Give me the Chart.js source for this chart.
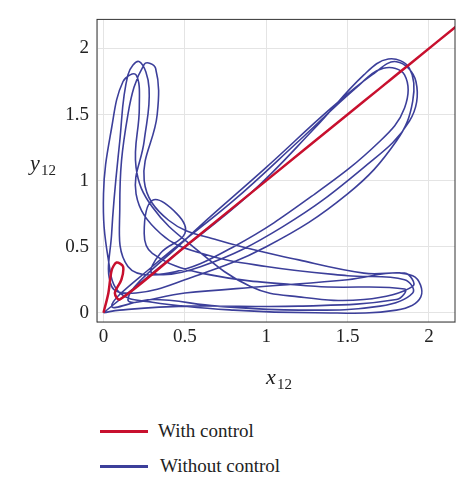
<!DOCTYPE html>
<html>
<head>
<meta charset="utf-8">
<script src="https://cdn.jsdelivr.net/npm/chart.js@4.4.0/dist/chart.umd.min.js"></script>
<style>
  body { margin: 0; background: #fff; }
  #wrap { position: relative; width: 474px; height: 496px; }
  canvas { position: absolute; left: 0; top: 0; }
  .leg { position: absolute; font: 19px "Liberation Serif", serif; color: #222; }
  .sw { position: absolute; height: 3px; width: 48px; }
</style>
</head>
<body>
<div id="wrap">
  <canvas id="chart" width="474" height="400"></canvas>
  <div class="sw" style="left:100px;top:430px;background:#c8102e"></div>
  <div class="leg" style="left:158px;top:420px">With control</div>
  <div class="sw" style="left:100px;top:465px;background:#3c3f9a"></div>
  <div class="leg" style="left:160px;top:455px">Without control</div>
</div>
<script>
// tick labels
const xTicks = [0, 0.5, 1, 1.5, 2];
const yTicks = [0, 0.5, 1, 1.5, 2];

// trajectory without control (x12, y12)
const withoutX = [0, 0.4, 0.9, 1.3, 1.6, 1.75, 1.88, 1.9, 1.8, 1.5, 1.0, 0.5, 0.2, 0.05,
  0.05, 0.1, 0.15, 0.22, 0.28, 0.25, 0.2, 0.35, 0.6, 1.0, 1.5, 1.85, 1.9, 1.7, 1.2, 0.7, 0.3, 0.05,
  0.3, 0.8, 1.2, 1.55, 1.72, 1.85, 1.85, 1.7, 1.3, 0.8, 0.4, 0.15,
  0.1, 0.15, 0.25, 0.32, 0.33, 0.25, 0.4, 0.7, 1.2, 1.6, 1.9, 1.95, 1.8, 1.3, 0.8, 0.3, 0.1,
  0.03, 0.0, 0.05, 0.12, 0.2, 0.22, 0.2, 0.3, 0.55, 0.9, 1.2, 1.6, 1.9, 1.85, 1.5, 1.0, 0.5, 0.15,
  0.5, 1.0, 1.4, 1.65, 1.8, 1.92, 1.88, 1.6, 1.1, 0.6, 0.3,
  0.35, 0.5, 0.45, 0.3, 0.25, 0.3, 0.6, 1.3, 1.85, 1.8, 1.2, 0.5, 0.1, 0.0];
const withoutY = [0, 0.4, 0.9, 1.4, 1.8, 1.92, 1.85, 1.6, 1.3, 0.9, 0.5, 0.25, 0.15, 0.2,
  0.6, 1.3, 1.8, 1.9, 1.7, 1.3, 0.9, 0.6, 0.45, 0.35, 0.28, 0.25, 0.15, 0.05, 0.02, 0.05, 0.1, 0.05,
  0.35, 0.85, 1.3, 1.7, 1.85, 1.8, 1.55, 1.3, 0.9, 0.5, 0.3, 0.35,
  0.8, 1.5, 1.88, 1.85, 1.5, 1.0, 0.7, 0.55, 0.4, 0.3, 0.28, 0.12, 0.02, 0.0, 0.02, 0.08, 0.15,
  0.4, 0.9, 1.4, 1.75, 1.8, 1.55, 1.1, 0.8, 0.5, 0.2, 0.12, 0.1, 0.2, 0.3, 0.25, 0.2, 0.15, 0.1,
  0.55, 1.1, 1.55, 1.8, 1.9, 1.75, 1.45, 1.1, 0.65, 0.35, 0.3,
  0.45, 0.6, 0.75, 0.85, 0.6, 0.45, 0.3, 0.2, 0.18, 0.1, 0.05, 0.05, 0.02, 0.0];

// trajectory with control
const withX = [0, 0.03, 0.05, 0.08, 0.12, 0.11, 0.07, 0.1, 0.5, 1.0, 1.5, 1.7, 1.9, 1.75, 1.9, 2.2];
const withY = [0, 0.15, 0.32, 0.38, 0.35, 0.25, 0.15, 0.1, 0.5, 1.0, 1.5, 1.7, 1.9, 1.75, 1.9, 2.2];

const toPts = (xs, ys) => xs.map((x, i) => ({ x: x, y: ys[i] }));

const serif = '"Liberation Serif", serif';

const framePlugin = {
  id: 'frame',
  afterDraw(chart) {
    const c = chart.ctx, a = chart.chartArea;
    c.save();
    c.strokeStyle = '#333';
    c.lineWidth = 1;
    c.strokeRect(a.left, a.top, a.right - a.left, a.bottom - a.top);
    // axis titles with subscripts
    c.fillStyle = '#222';
    c.textBaseline = 'alphabetic';
    c.font = 'italic 22px ' + serif;
    c.fillText('x', 266, 384);
    c.fillText('y', 30, 170);
    c.font = '15px ' + serif;
    c.fillText('12', 277, 389);
    c.fillText('12', 41, 175);
    c.restore();
  }
};

const ctx = document.getElementById('chart').getContext('2d');
new Chart(ctx, {
  type: 'scatter',
  data: {
    datasets: [
      {
        label: 'With control',
        data: toPts(withX, withY),
        showLine: true, borderColor: '#c8102e', borderWidth: 2.5,
        pointRadius: 0, tension: 0.3, order: 0
      },
      {
        label: 'Without control',
        data: toPts(withoutX, withoutY),
        showLine: true, borderColor: '#3c3f9a', borderWidth: 1.6,
        pointRadius: 0, tension: 0.4, order: 1
      }
    ]
  },
  options: {
    responsive: false,
    animation: false,
    layout: { padding: { top: 15, right: 19, bottom: 8, left: 0 } },
    plugins: { legend: { display: false }, tooltip: { enabled: false } },
    scales: {
      x: {
        min: -0.04, max: 2.16,
        afterBuildTicks: s => { s.ticks = xTicks.map(v => ({ value: v })); },
        afterFit: s => { s.height = 70; },
        ticks: { color: '#222', font: { family: serif, size: 19 }, padding: 4, callback: v => String(v) },
        grid: { color: '#e4e4e4', drawTicks: false }
      },
      y: {
        min: -0.07, max: 2.22,
        afterBuildTicks: s => { s.ticks = yTicks.map(v => ({ value: v })); },
        afterFit: s => { s.width = 97; },
        ticks: { color: '#222', font: { family: serif, size: 19 }, padding: 8, callback: v => String(v) },
        grid: { color: '#e4e4e4', drawTicks: false }
      }
    }
  },
  plugins: [framePlugin]
});
</script>
</body>
</html>
